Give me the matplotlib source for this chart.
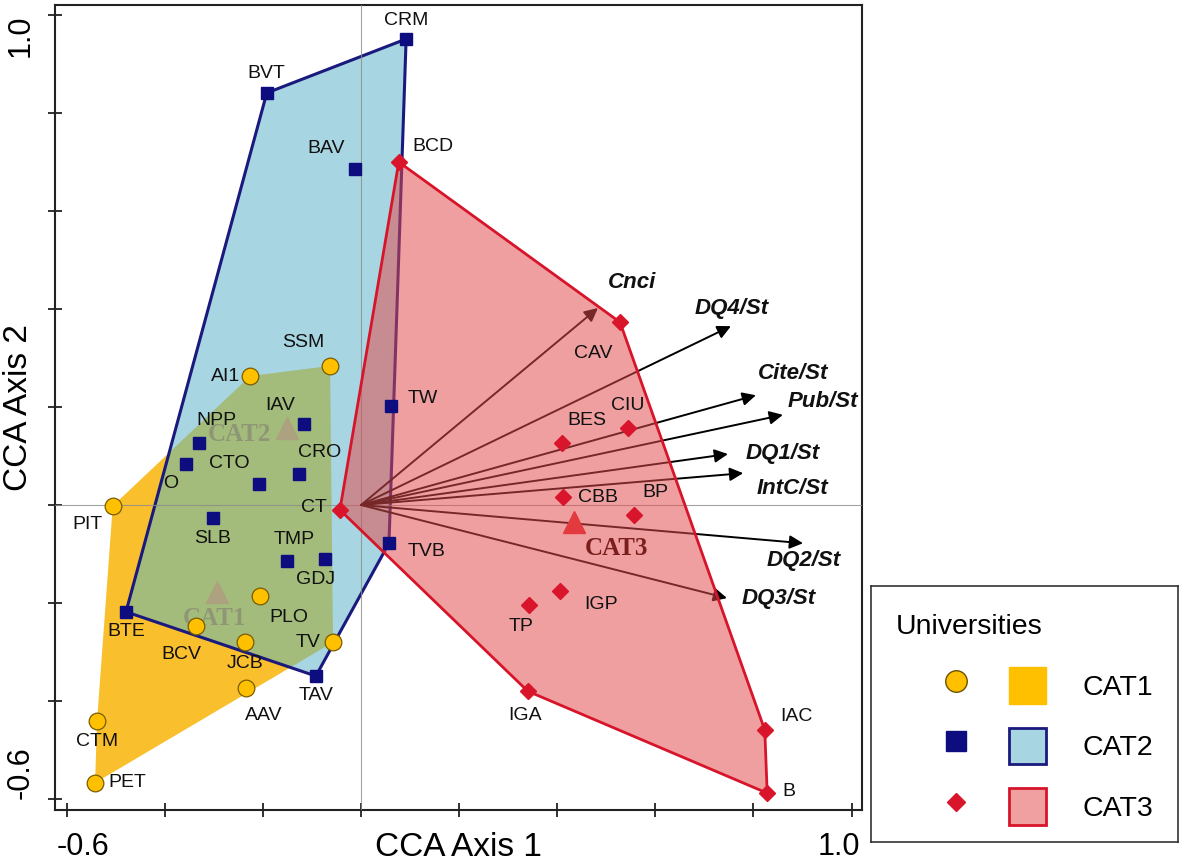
import numpy as np
import matplotlib.pyplot as plt
import matplotlib.transforms as mtrans
from matplotlib.patches import Polygon, Patch
from matplotlib.lines import Line2D
from matplotlib.legend_handler import HandlerTuple

plt.rcParams['font.family'] = ['Liberation Sans', 'DejaVu Sans']

# universities, CCA site scores
cat1_names = ['SSM', 'AI1', 'PIT', 'PLO', 'BCV', 'JCB', 'TV', 'AAV', 'CTM', 'PET']
cat1_x = [-0.063, -0.226, -0.506, -0.206, -0.336, -0.236, -0.057, -0.234, -0.538, -0.542]
cat1_y = [0.284, 0.263, -0.002, -0.186, -0.247, -0.280, -0.280, -0.373, -0.441, -0.567]

cat2_names = ['CRM', 'BVT', 'BAV', 'TW', 'IAV', 'NPP', 'O', 'CRO', 'CTO', 'SLB',
              'TMP', 'GDJ', 'TVB', 'BTE', 'TAV']
cat2_x = [0.092, -0.192, -0.012, 0.061, -0.116, -0.330, -0.357, -0.126, -0.208, -0.302,
          -0.151, -0.073, 0.057, -0.479, -0.092]
cat2_y = [0.951, 0.841, 0.686, 0.202, 0.165, 0.127, 0.084, 0.063, 0.043, -0.027,
          -0.114, -0.110, -0.078, -0.218, -0.349]

cat3_names = ['BCD', 'CAV', 'CIU', 'BES', 'CBB', 'BP', 'CT', 'IGP', 'TP', 'IGA', 'IAC', 'B']
cat3_x = [0.077, 0.528, 0.544, 0.410, 0.412, 0.556, -0.043, 0.406, 0.342, 0.340, 0.823, 0.828]
cat3_y = [0.700, 0.373, 0.157, 0.127, 0.016, -0.020, -0.010, -0.176, -0.204, -0.380, -0.459, -0.588]

# group centroids
cent_names = ['CAT1', 'CAT2', 'CAT3']
cent_x = [-0.294, -0.151, 0.434]
cent_y = [-0.178, 0.157, -0.035]

# biplot vectors
vec_names = ['Cnci', 'DQ4/St', 'Cite/St', 'Pub/St', 'DQ1/St', 'IntC/St', 'DQ2/St', 'DQ3/St']
vec_x = [0.483, 0.754, 0.805, 0.860, 0.748, 0.779, 0.901, 0.746]
vec_y = [0.402, 0.365, 0.224, 0.184, 0.104, 0.065, -0.078, -0.190]

xticks = np.linspace(-0.6, 1.0, 9)
yticks = np.linspace(-0.6, 1.0, 9)
tick_text = ['-0.6', '', '', '', '', '', '', '', '1.0']

# label offsets in pixels (dx right, dy down)
label_off = {
    'SSM': (-27, -23), 'AI1': (-25, 0), 'PIT': (-25, 19), 'PLO': (29, 21), 'BCV': (-15, 28),
    'JCB': (0, 21), 'TV': (-25, 0), 'AAV': (18, 28), 'CTM': (0, 20), 'PET': (32, 0),
    'CRM': (0, -19), 'BVT': (0, -19), 'BAV': (-29, -20), 'TW': (32, -8), 'IAV': (-24, -19),
    'NPP': (17, -22), 'O': (-15, 20), 'CRO': (20, -22), 'CTO': (-30, -20), 'SLB': (0, 20),
    'TMP': (7, -21), 'GDJ': (-10, 21), 'TVB': (38, 8), 'BTE': (0, 20), 'TAV': (0, 19),
    'BCD': (34, -16), 'CAV': (-27, 31), 'CIU': (0, -23), 'BES': (25, -22), 'CBB': (35, 0),
    'BP': (22, -22), 'CT': (-26, -2), 'IGP': (41, 13), 'TP': (-8, 22), 'IGA': (-3, 24),
    'IAC': (32, -13), 'B': (22, -2),
}
vec_off = {'Cnci': (34, -26), 'DQ4/St': (1, -18), 'Cite/St': (37, -22), 'Pub/St': (40, -13),
           'DQ1/St': (55, -1), 'IntC/St': (49, 15), 'DQ2/St': (1, 17), 'DQ3/St': (52, 0)}
cent_off = {'CAT1': (-2, 26), 'CAT2': (-47, 6), 'CAT3': (43, 26)}


def hull(xs, ys):
    pts = sorted(zip(xs, ys))

    def cross(o, a, b):
        return (a[0]-o[0])*(b[1]-o[1]) - (a[1]-o[1])*(b[0]-o[0])
    lower, upper = [], []
    for p in pts:
        while len(lower) >= 2 and cross(lower[-2], lower[-1], p) <= 0:
            lower.pop()
        lower.append(p)
    for p in reversed(pts):
        while len(upper) >= 2 and cross(upper[-2], upper[-1], p) <= 0:
            upper.pop()
        upper.append(p)
    return np.array(lower[:-1] + upper[:-1])


orange = '#F9BF2C'
light_blue = '#A8D5E2'
green = '#A3BB7B'
navy = '#1A1A7E'
red = '#D7142A'

fig = plt.figure(figsize=(11.8, 8.68), dpi=100)
ax = fig.add_axes([55/1180, 1-810/868, 807/1180, 805/868])

h1 = hull(cat1_x, cat1_y)
h2 = hull(cat2_x, cat2_y)
h3 = hull(cat3_x, cat3_y)

p1 = Polygon(h1, closed=True, facecolor=orange, edgecolor='none', zorder=2)
ax.add_patch(p1)
p2 = Polygon(h2, closed=True, facecolor=light_blue, edgecolor='none', zorder=3)
ax.add_patch(p2)
p12 = Polygon(h1, closed=True, facecolor=green, edgecolor='none', zorder=4)
ax.add_patch(p12)
p12.set_clip_path(p2)
ax.add_patch(Polygon(h2, closed=True, fill=False, edgecolor=navy, lw=2.2, zorder=5))

ax.axhline(0, color='#8c8c8c', lw=0.8, alpha=0.8, zorder=5.5)
ax.axvline(0, color='#8c8c8c', lw=0.8, alpha=0.8, zorder=5.5)

# vectors
for n, vx, vy in zip(vec_names, vec_x, vec_y):
    ax.annotate('', xy=(vx, vy), xytext=(0, 0),
                arrowprops=dict(arrowstyle='-|>', color='black', lw=1.4,
                                mutation_scale=20, shrinkA=0, shrinkB=0),
                zorder=6)
    dx, dy = vec_off[n]
    ax.annotate(n, xy=(vx, vy), xytext=(dx, -dy), textcoords='offset pixels',
                ha='center', va='center', fontsize=16, fontweight='bold',
                fontstyle='italic', color='#111111', zorder=10)

p3 = Polygon(h3, closed=True, facecolor=(226/255, 75/255, 75/255, 0.53),
             edgecolor=red, lw=2, zorder=7)
ax.add_patch(p3)

# centroids
cent_col = ['#ADA27F', '#ADA27F', '#E23A3E']
cent_txt = ['#8F9676', '#8F9676', '#7A1E1E']
for n, cx, cy, c, tc in zip(cent_names, cent_x, cent_y, cent_col, cent_txt):
    ax.plot(cx, cy, marker='^', ms=16, color=c, ls='none', zorder=8)
    dx, dy = cent_off[n]
    ax.annotate(n, xy=(cx, cy), xytext=(dx, -dy), textcoords='offset pixels',
                ha='center', va='center', fontsize=18, fontweight='bold',
                family='Liberation Serif', color=tc, zorder=8)

ax.plot(cat1_x, cat1_y, ls='none', marker='o', ms=12, mfc='#FFC000', mec='#7a5c00',
        mew=0.9, zorder=9)
ax.plot(cat2_x, cat2_y, ls='none', marker='s', ms=8, color='#0D0D80', zorder=9)
ax.plot(cat3_x, cat3_y, ls='none', marker='D', ms=8.5, color='#D9152B', zorder=9)

for names, xs, ys in [(cat1_names, cat1_x, cat1_y), (cat2_names, cat2_x, cat2_y),
                      (cat3_names, cat3_x, cat3_y)]:
    for n, px, py in zip(names, xs, ys):
        dx, dy = label_off[n]
        ax.annotate(n, xy=(px, py), xytext=(dx, -dy), textcoords='offset pixels',
                    ha='center', va='center', fontsize=14, color='#111111', zorder=10)

ax.set_xlim(-0.6237, 1.0212)
ax.set_ylim(-0.6224, 1.0204)
ax.tick_params(direction='inout', length=10, width=1.3, color='#222222')
ax.tick_params(axis='x', pad=11)
ax.tick_params(axis='y', pad=9)
ax.set_xticks(xticks)
ax.set_xticklabels(tick_text, fontsize=22)
ax.set_yticks(yticks)
ax.set_yticklabels(tick_text, fontsize=22, rotation=90)
xl = ax.get_xticklabels()
xl[0].set_ha('left')
xl[-1].set_ha('right')
xl[0].set_transform(xl[0].get_transform() + mtrans.ScaledTranslation(-0.10, 0, fig.dpi_scale_trans))
xl[-1].set_transform(xl[-1].get_transform() + mtrans.ScaledTranslation(0.09, 0, fig.dpi_scale_trans))
yl = ax.get_yticklabels()
yl[0].set_va('bottom')
yl[-1].set_va('top')
for s in ax.spines.values():
    s.set_linewidth(1.5)
    s.set_color('#222222')

ax.set_xlabel('CCA Axis 1', fontsize=24)
ax.set_ylabel('CCA Axis 2', fontsize=24)
ax.xaxis.set_label_coords(0.5, -0.027)
ax.xaxis.label.set_va('top')
ax.yaxis.set_label_coords(-0.026, 0.5)

# legend panel
lax = fig.add_axes([871/1180, 1-842/868, 307/1180, 256/868])
lax.set_xticks([])
lax.set_yticks([])
for s in lax.spines.values():
    s.set_color('#333333')
    s.set_linewidth(1.2)
lax.text(25/307, (842-627)/256, 'Universities', fontsize=20.5, ha='left', va='center',
         transform=lax.transAxes)

handles = [
    (Line2D([], [], ls='none', marker='o', ms=15.5, mfc='#FFC000', mec='#6b5200', mew=1),
     Patch(facecolor='#FFC000', edgecolor='#FFC000')),
    (Line2D([], [], ls='none', marker='s', ms=14, color='#0D0D80'),
     Patch(facecolor=light_blue, edgecolor=navy, lw=2)),
    (Line2D([], [], ls='none', marker='D', ms=9.5, color='#D9152B'),
     Patch(facecolor='#F0A0A0', edgecolor=red, lw=2)),
]
lax.legend(handles, cent_names, handler_map={tuple: HandlerTuple(ndivide=None, pad=1.19)},
           loc='lower right', bbox_to_anchor=(1 - 5/307, -3/256), frameon=False,
           fontsize=20.5, handlelength=3.79, handleheight=1.62, handletextpad=1.28,
           labelspacing=0.83, borderpad=0.7, borderaxespad=0)

fig.savefig('out.png', dpi=100)
